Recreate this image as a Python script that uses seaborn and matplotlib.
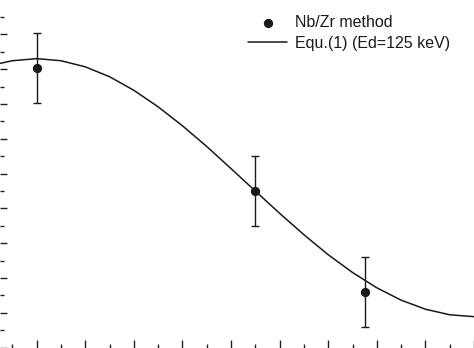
import numpy as np
import pandas as pd
import matplotlib
matplotlib.use("Agg")
import matplotlib.pyplot as plt
import seaborn as sns
from matplotlib.ticker import MultipleLocator

# Measured points (Nb/Zr method)
meas_angle = [0, 90, 135]
meas_energy = [14.807, 14.10, 13.52]
meas_err = [0.20, 0.20, 0.20]

# Equ.(1) curve, values
curve_angle = [-15, -10, 0, 10, 20, 30, 40, 50, 60, 70, 80, 90,
               100, 110, 120, 130, 140, 150, 160, 170, 180]
curve_energy = [14.834, 14.849, 14.861, 14.849, 14.814, 14.757, 14.679, 14.584,
                14.475, 14.356, 14.229, 14.100, 13.972, 13.849, 13.734, 13.632,
                13.544, 13.473, 13.421, 13.389, 13.378]

label_points = "Nb/Zr method"
label_curve = "Equ.(1) (Ed=125 keV)"

sns.set_style("white")
plt.rcParams['font.family'] = ['Liberation Sans', 'DejaVu Sans']

fig = plt.figure(figsize=(4.74, 3.48), dpi=100)
ax = fig.add_axes([0, 0, 1, 1])

curve_df = pd.DataFrame({"angle": curve_angle, "energy": curve_energy})
sns.lineplot(data=curve_df, x="angle", y="energy", ax=ax, color="#1a1a1a",
             linewidth=1.1, label=label_curve, sort=False)

ax.errorbar(meas_angle, meas_energy, yerr=meas_err, fmt="none",
            ecolor="#1a1a1a", elinewidth=1.0, capsize=3.0, capthick=1.0)
sns.scatterplot(x=meas_angle, y=meas_energy, ax=ax, color="#1a1a1a",
                s=45, edgecolor="#1a1a1a", linewidth=0, label=label_points,
                zorder=5)

ax.set_xlim(-15.1, 180.0)
ax.set_ylim(13.198, 15.198)
ax.xaxis.set_major_locator(MultipleLocator(20))
ax.xaxis.set_minor_locator(MultipleLocator(10))
ax.yaxis.set_major_locator(MultipleLocator(0.2))
ax.yaxis.set_minor_locator(MultipleLocator(0.1))
ax.tick_params(axis="both", which="both", direction="in", colors="#222222",
               labelleft=False, labelbottom=False, left=True, bottom=True,
               top=False, right=False)
ax.tick_params(axis="y", which="major", length=5.2, width=1.0)
ax.tick_params(axis="y", which="minor", length=3.0, width=1.0)
ax.tick_params(axis="x", which="major", length=5.8, width=1.0)
ax.tick_params(axis="x", which="minor", length=3.0, width=1.0)
for s in ax.spines.values():
    s.set_visible(False)
ax.set_xlabel("")
ax.set_ylabel("")

handles, labels = ax.get_legend_handles_labels()
order = [labels.index(label_points), labels.index(label_curve)]
leg = ax.legend([handles[i] for i in order], [labels[i] for i in order],
                loc="upper left", bbox_to_anchor=(248 / 474, 1 - 15 / 348),
                frameon=False, fontsize=11.5, handlelength=2.45,
                handletextpad=0.5, borderpad=0, borderaxespad=0,
                labelspacing=0.38, markerscale=1.0)
for t in leg.get_texts():
    t.set_color("#1a1a1a")

fig.savefig("out.png", dpi=100)
